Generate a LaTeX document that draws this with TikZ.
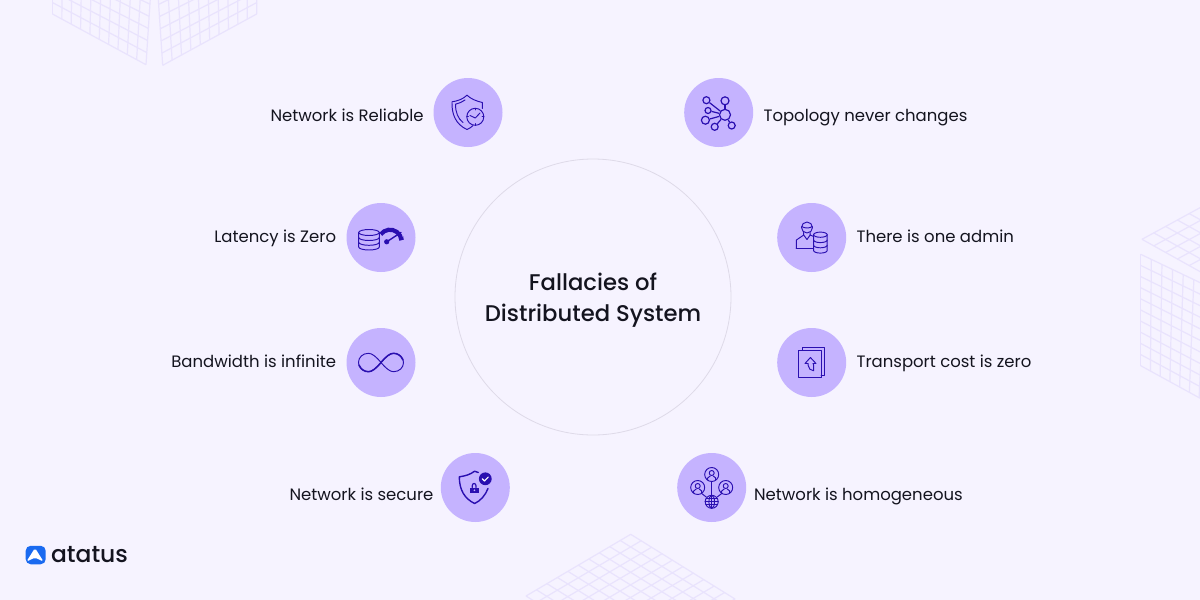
\documentclass[tikz,border=0pt]{standalone}
\usepackage{fontspec}
\setmainfont{Poppins}
\newfontfamily\titlefont{Poppins Medium}
\usetikzlibrary{positioning,calc}

\definecolor{pagebg}{HTML}{F6F3FF}
\definecolor{iconbg}{HTML}{C5B3FF}
\definecolor{iconink}{HTML}{2A0FB0}
\definecolor{gridink}{HTML}{E9E3FD}
\definecolor{ringink}{HTML}{DEDAE8}
\definecolor{textink}{HTML}{14141F}
\definecolor{logoblue}{HTML}{1A6AF0}

\tikzset{
    iconcircle/.style={circle,fill=iconbg,minimum size=69pt,inner sep=0pt},
    lbl/.style={font=\fontsize{16.5}{18}\selectfont,text=textink,inner sep=0pt,text height=12pt,text depth=4pt},
    ink/.style={draw=iconink,line width=0.95pt,line join=round,line cap=round},
    gridline/.style={draw=gridink,line width=1.2pt},
}

% corners in order: start of first line, start of last line, end of last, end of first
\newcommand{\gridpatch}[6]{%
    \foreach \i in {0,...,#5}{
        \pgfmathsetmacro{\t}{\i/#5}
        \draw[gridline] ($#1!\t!#2$) -- ($#4!\t!#3$);
    }
    \foreach \j in {0,...,#6}{
        \pgfmathsetmacro{\t}{\j/#6}
        \draw[gridline] ($#1!\t!#4$) -- ($#2!\t!#3$);
    }
}

\begin{document}
\begin{tikzpicture}[x=1pt,y=-1pt]
    \useasboundingbox (0,0) rectangle (1200,600);
    \fill[pagebg] (0,0) rectangle (1200,600);

    % Background grids
    \begin{scope}
        \clip (0,0) rectangle (1200,600);
        \gridpatch{(52.5,14)}{(146,64.7)}{(151.5,-20)}{(52.5,-66)}{10}{7}
        \gridpatch{(162.7,65.3)}{(256.7,14)}{(257,-66)}{(157,-20)}{10}{7}
        \gridpatch{(1140.7,254.3)}{(1247,305)}{(1238,419)}{(1140.7,365.7)}{10}{10}
        \gridpatch{(1142,239.3)}{(1260,175)}{(1378,240)}{(1260,305)}{10}{10}
        \gridpatch{(630.7,534.3)}{(526,596)}{(630,661)}{(735,599)}{10}{10}
    \end{scope}

    % Centre ring and title
    \node[circle,draw=ringink,line width=0.8pt,minimum size=276pt,inner sep=0pt] (ring) at (593,297) {};
    \node[inner sep=0pt,text=textink,font=\titlefont\fontsize{22.7}{31}\selectfont,align=center] (title) at (593,300) {Fallacies of\\Distributed System};

    % Icon circles
    \node[iconcircle] (reliable) at (468,112.5) {};
    \node[iconcircle] (topology) at (718.7,112.5) {};
    \node[iconcircle] (latency) at (381,237.5) {};
    \node[iconcircle] (admin) at (811.7,237.5) {};
    \node[iconcircle] (bandwidth) at (381,362.5) {};
    \node[iconcircle] (transport) at (811.7,362.5) {};
    \node[iconcircle] (secure) at (475.3,487.5) {};
    \node[iconcircle] (homogeneous) at (711.7,487.5) {};

    % Labels
    \node[lbl,left=9.5pt of reliable,yshift=-4.5pt] (reliabletext) {Network is Reliable};
    \node[lbl,right=10pt of topology,yshift=-4.5pt] (topologytext) {Topology never changes};
    \node[lbl,left=10pt of latency,yshift=-0.5pt] (latencytext) {Latency is Zero};
    \node[lbl,right=10pt of admin,yshift=-0.5pt] (admintext) {There is one admin};
    \node[lbl,left=10pt of bandwidth,yshift=-0.5pt] (bandwidthtext) {Bandwidth is infinite};
    \node[lbl,right=10pt of transport,yshift=-0.5pt] (transporttext) {Transport cost is zero};
    \node[lbl,left=7pt of secure,yshift=-8.5pt] (securetext) {Network is secure};
    \node[lbl,right=7.5pt of homogeneous,yshift=-8.5pt] (homogeneoustext) {Network is homogeneous};

    % Shield with clock
    \begin{scope}[shift={(468,112.5)}]
        \draw[ink] (-1,-17.3) .. controls (-5,-13.5) and (-10,-11.5) .. (-16,-10.7)
            .. controls (-16.5,2) and (-12,12) .. (-1,17)
            .. controls (1.5,16) and (3.5,14.5) .. (5,13);
        \draw[ink] (-1,-17.3) .. controls (3,-13.5) and (8,-11.5) .. (14.3,-10) -- (14.3,-4);
        \draw[ink] (-3,-12.5) .. controls (-6,-10.5) and (-9,-9) .. (-12.5,-8.3)
            .. controls (-12.5,0) and (-10,6) .. (-5,10);
        \draw[ink] (7.3,4.3) circle (8.5);
        \draw[ink] (2,3) -- (7.3,5.5) -- (12,0.5);
        \draw[ink] (7.3,-2.5) -- (7.3,-4.2) (7.3,11) -- (7.3,12.8) (0.5,4.3) -- (-1.2,4.3) (14.1,4.3) -- (15.8,4.3);
    \end{scope}

    % Topology
    \begin{scope}[shift={(718.7,112.5)},every node/.style={circle,draw=iconink,line width=1.2pt,inner sep=0pt}]
        \node[minimum size=11pt] (hub) at (6.3,2.3) {};
        \node[minimum size=7pt] (ta) at (-12.3,-12.3) {};
        \node[minimum size=8pt] (tb) at (6.3,-11.7) {};
        \node[minimum size=6pt] (tc) at (-10.7,-2) {};
        \node[minimum size=8pt] (td) at (-13.3,7.7) {};
        \node[minimum size=7pt] (te) at (-4,14.3) {};
        \node[minimum size=7pt] (tf) at (13,13) {};
        \foreach \n in {ta,tb,tc,td,te,tf}{
            \draw[iconink,line width=1.2pt] (hub) -- (\n);
        }
    \end{scope}

    % Database and gauge
    \begin{scope}[shift={(381,237.5)}]
        \draw[ink] (-12,-5) ellipse (10.3 and 3);
        \draw[ink] (-22.3,-5) -- (-22.3,9.5) arc (180:0:10.3 and 3) -- (-1.7,-5);
        \draw[ink] (-22.3,0) arc (180:0:10.3 and 3);
        \draw[ink] (-22.3,4.8) arc (180:0:10.3 and 3);
        \draw[iconink,line width=4.2pt] (9,3.7) ++(-143:11.5) arc (-143:-5:11.5);
        \fill[iconink] (9,3.7) ++(-8:9.5) -- ++(4.2,0) -- ++(-0.3,-3.5) -- cycle;
        \draw[ink,line width=1.4pt] (5.7,4.3) -- (20,-5);
        \fill[iconink] (5.7,4.3) circle (2.6);
    \end{scope}

    % Infinity
    \begin{scope}[shift={(381,362.5)}]
        \draw[ink] (0,0) .. controls (5,-6) and (9,-9.2) .. (12.5,-9.2)
            .. controls (18.5,-9.2) and (22.5,-5) .. (22.5,0)
            .. controls (22.5,5) and (18.5,9.2) .. (12.5,9.2)
            .. controls (9,9.2) and (5,6) .. (0,0)
            .. controls (-5,-6) and (-9,-9.2) .. (-12.5,-9.2)
            .. controls (-18.5,-9.2) and (-22.5,-5) .. (-22.5,0)
            .. controls (-22.5,5) and (-18.5,9.2) .. (-12.5,9.2)
            .. controls (-9,9.2) and (-5,6) .. (0,0);
        \draw[ink,line width=1.5pt] (-22,2.5) .. controls (-20,7) and (-16.5,9.2) .. (-12.5,9.2)
            .. controls (-9,9.2) and (-5,6) .. (0,0)
            .. controls (5,-6) and (9,-9.2) .. (12.5,-9.2)
            .. controls (16.5,-9.2) and (20,-7) .. (22,-2.5);
    \end{scope}

    % Admin with database
    \begin{scope}[shift={(811.7,237.5)}]
        \draw[ink] (-4.7,-10) circle (5.5);
        \draw[ink] (-10,-11) .. controls (-7,-9) and (-2,-9) .. (0.5,-11);
        \draw[ink] (-8,-5) -- (-8,-2.5) -- (-15.3,2.5) -- (-15.3,11) -- (1,11);
        \draw[ink] (-1.5,-5) -- (-1.5,-2.5) -- (2,-1);
        \draw[ink] (-8,-2.5) -- (-4.7,2) -- (-1.5,-2.5);
        \draw[ink,line width=1.4pt] (-15.3,11) -- (1.5,11);
        \fill[iconbg] (1.9,-5.4) rectangle (15.5,15.6);
        \draw[ink] (8.7,-2.8) ellipse (6.8 and 2.6);
        \draw[ink] (1.9,-2.8) -- (1.9,13) arc (180:0:6.8 and 2.6) -- (15.5,-2.8);
        \draw[ink] (1.9,2.5) arc (180:0:6.8 and 2.6);
        \draw[ink] (1.9,7.7) arc (180:0:6.8 and 2.6);
    \end{scope}

    % Pages with up arrow
    \begin{scope}[shift={(811.7,362.5)}]
        \draw[ink] (-9,-12.3) -- (-9,-14.7) -- (13,-14.7) -- (13,12.7) -- (9.3,12.7);
        \draw[ink] (-13,-12.3) rectangle (9.3,15.3);
        \draw[ink] (-1.3,-5) -- (-6.7,1) -- (-3.5,1) -- (-3.5,3) .. controls (-3.5,6) and (-1,8) .. (2,8.3)
            -- (2,3) .. controls (2,2) and (1.5,1) .. (1.2,1) -- (4.3,1) -- cycle;
    \end{scope}

    % Shield with lock and tick
    \begin{scope}[shift={(475.3,487.5)}]
        \draw[ink,line width=1.4pt] (3,-15) -- (-0.7,-16.3) .. controls (-5,-13) and (-10,-11.5) .. (-16,-10.7)
            .. controls (-16,2) and (-11,11) .. (-0.7,16)
            .. controls (5,13.5) and (10,8) .. (12.7,1);
        \fill[iconink] (-5,0) rectangle (3.3,5.5);
        \draw[ink,line width=1.2pt] (-3,0) -- (-3,-2) arc (180:0:1.8 and -2) -- (0.6,0);
        \fill[iconbg] (-0.85,2.8) circle (0.9);
        \fill[iconink] (10,-8.7) circle (6.4);
        \draw[white,line width=1.1pt,line cap=round,line join=round] (7,-8.7) -- (9.2,-6.5) -- (13,-10.5);
    \end{scope}

    % People around a globe
    \begin{scope}[shift={(711.7,487.5)}]
        \foreach \px/\py in {0/-13,-14/0,14/0}{
            \draw[ink] (\px,\py) circle (7);
            \draw[ink] (\px,{\py-1.5}) circle (2.5);
            \draw[ink] ({\px-4},{\py+5.5}) -- ({\px-4},{\py+3.5}) -- ({\px-1.5},{\py+1.5}) ({\px+1.5},{\py+1.5}) -- ({\px+4},{\py+3.5}) -- ({\px+4},{\py+5.5});
        }
        \draw[ink] (0,-6) -- (0,8);
        \draw[ink] (-10,6) -- (-5.5,9.5);
        \draw[ink] (10,6) -- (5.5,9.5);
        \draw[ink] (0,14.3) circle (6.5);
        \draw[ink] (0,14.3) ellipse (2.8 and 6.5);
        \draw[ink] (-6.5,14.3) -- (6.5,14.3) (-5.7,11.2) -- (5.7,11.2) (-5.7,17.4) -- (5.7,17.4) (0,7.8) -- (0,20.8);
    \end{scope}

    % Logo
    \node[fill=logoblue,rounded corners=5pt,minimum width=20pt,minimum height=18.5pt,inner sep=0pt] (logomark) at (35.7,555) {};
    \fill[white,rounded corners=1.8pt] (35,548) -- (43.5,561.5) -- (35,557.7) -- (26.5,561.5) -- cycle;
    \node[font=\titlefont\fontsize{23.4}{26}\selectfont,text=textink,inner sep=0pt,right=5pt of logomark] (logotext) {atatus};
\end{tikzpicture}
\end{document}
